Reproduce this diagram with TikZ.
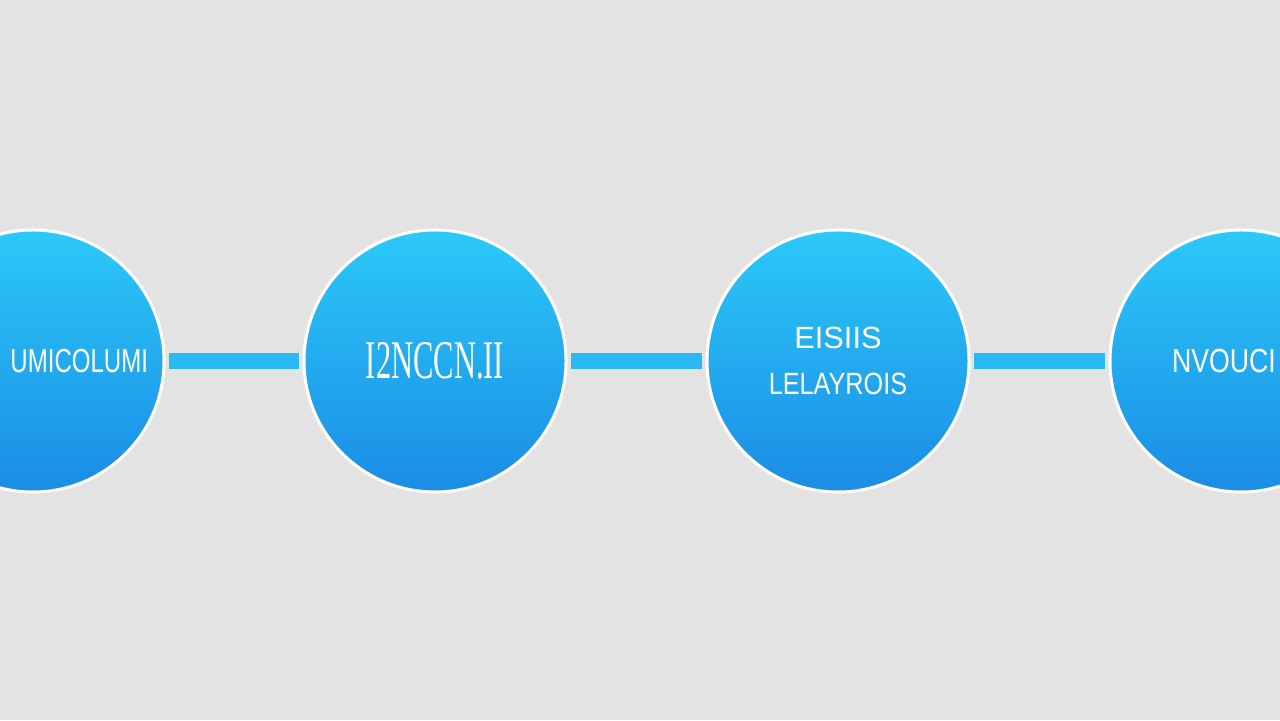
\documentclass[tikz,border=0pt]{standalone}
\usepackage{fontspec}
\setmainfont{Liberation Serif}
\setsansfont{Liberation Sans}
\definecolor{bggray}{HTML}{E3E3E3}
\definecolor{disctop}{HTML}{2CC9F8}
\definecolor{discbottom}{HTML}{1A8CE5}
\definecolor{barblue}{HTML}{29B9F4}
\newcommand\squeeze[2]{\scalebox{#1}[1]{#2}}
\tikzset{
  disc/.style={circle, minimum size=5.24cm, inner sep=0pt, draw=white,
    line width=1.7pt, top color=disctop, bottom color=discbottom,
    text=white, font=\sffamily\fontsize{19}{24}\selectfont, align=center},
  bar/.style={draw=barblue, line width=9pt, shorten <=2pt, shorten >=2pt}
}
\begin{document}
\begin{tikzpicture}
      \useasboundingbox (0,0) rectangle (25.6,14.4);
      \fill[bggray] (0,0) rectangle (25.6,14.4);
      \clip (0,0) rectangle (25.6,14.4);
      \draw
        (0.66,7.18) node[disc] (c1){\makebox[4.6cm][r]{\squeeze{0.72}{UMICOLUMI}}}
        (8.70,7.18) node[disc, font=\rmfamily\fontsize{31}{36}\selectfont] (c2){\squeeze{0.56}{I2NCCN.II}}
        (16.76,7.18) node[disc, font=\sffamily\fontsize{17.5}{26.5}\selectfont] (c3){EISIIS\\\squeeze{0.82}{LELAYROIS}}
        (24.82,7.18) node[disc] (c4){\makebox[2.76cm][l]{\squeeze{0.8}{NVOUCI}}};
      \begin{scope}[-]
        \draw[bar] (c1) to (c2);
        \draw[bar] (c2) to (c3);
        \draw[bar] (c3) to (c4);
      \end{scope}
    \end{tikzpicture}
\end{document}
